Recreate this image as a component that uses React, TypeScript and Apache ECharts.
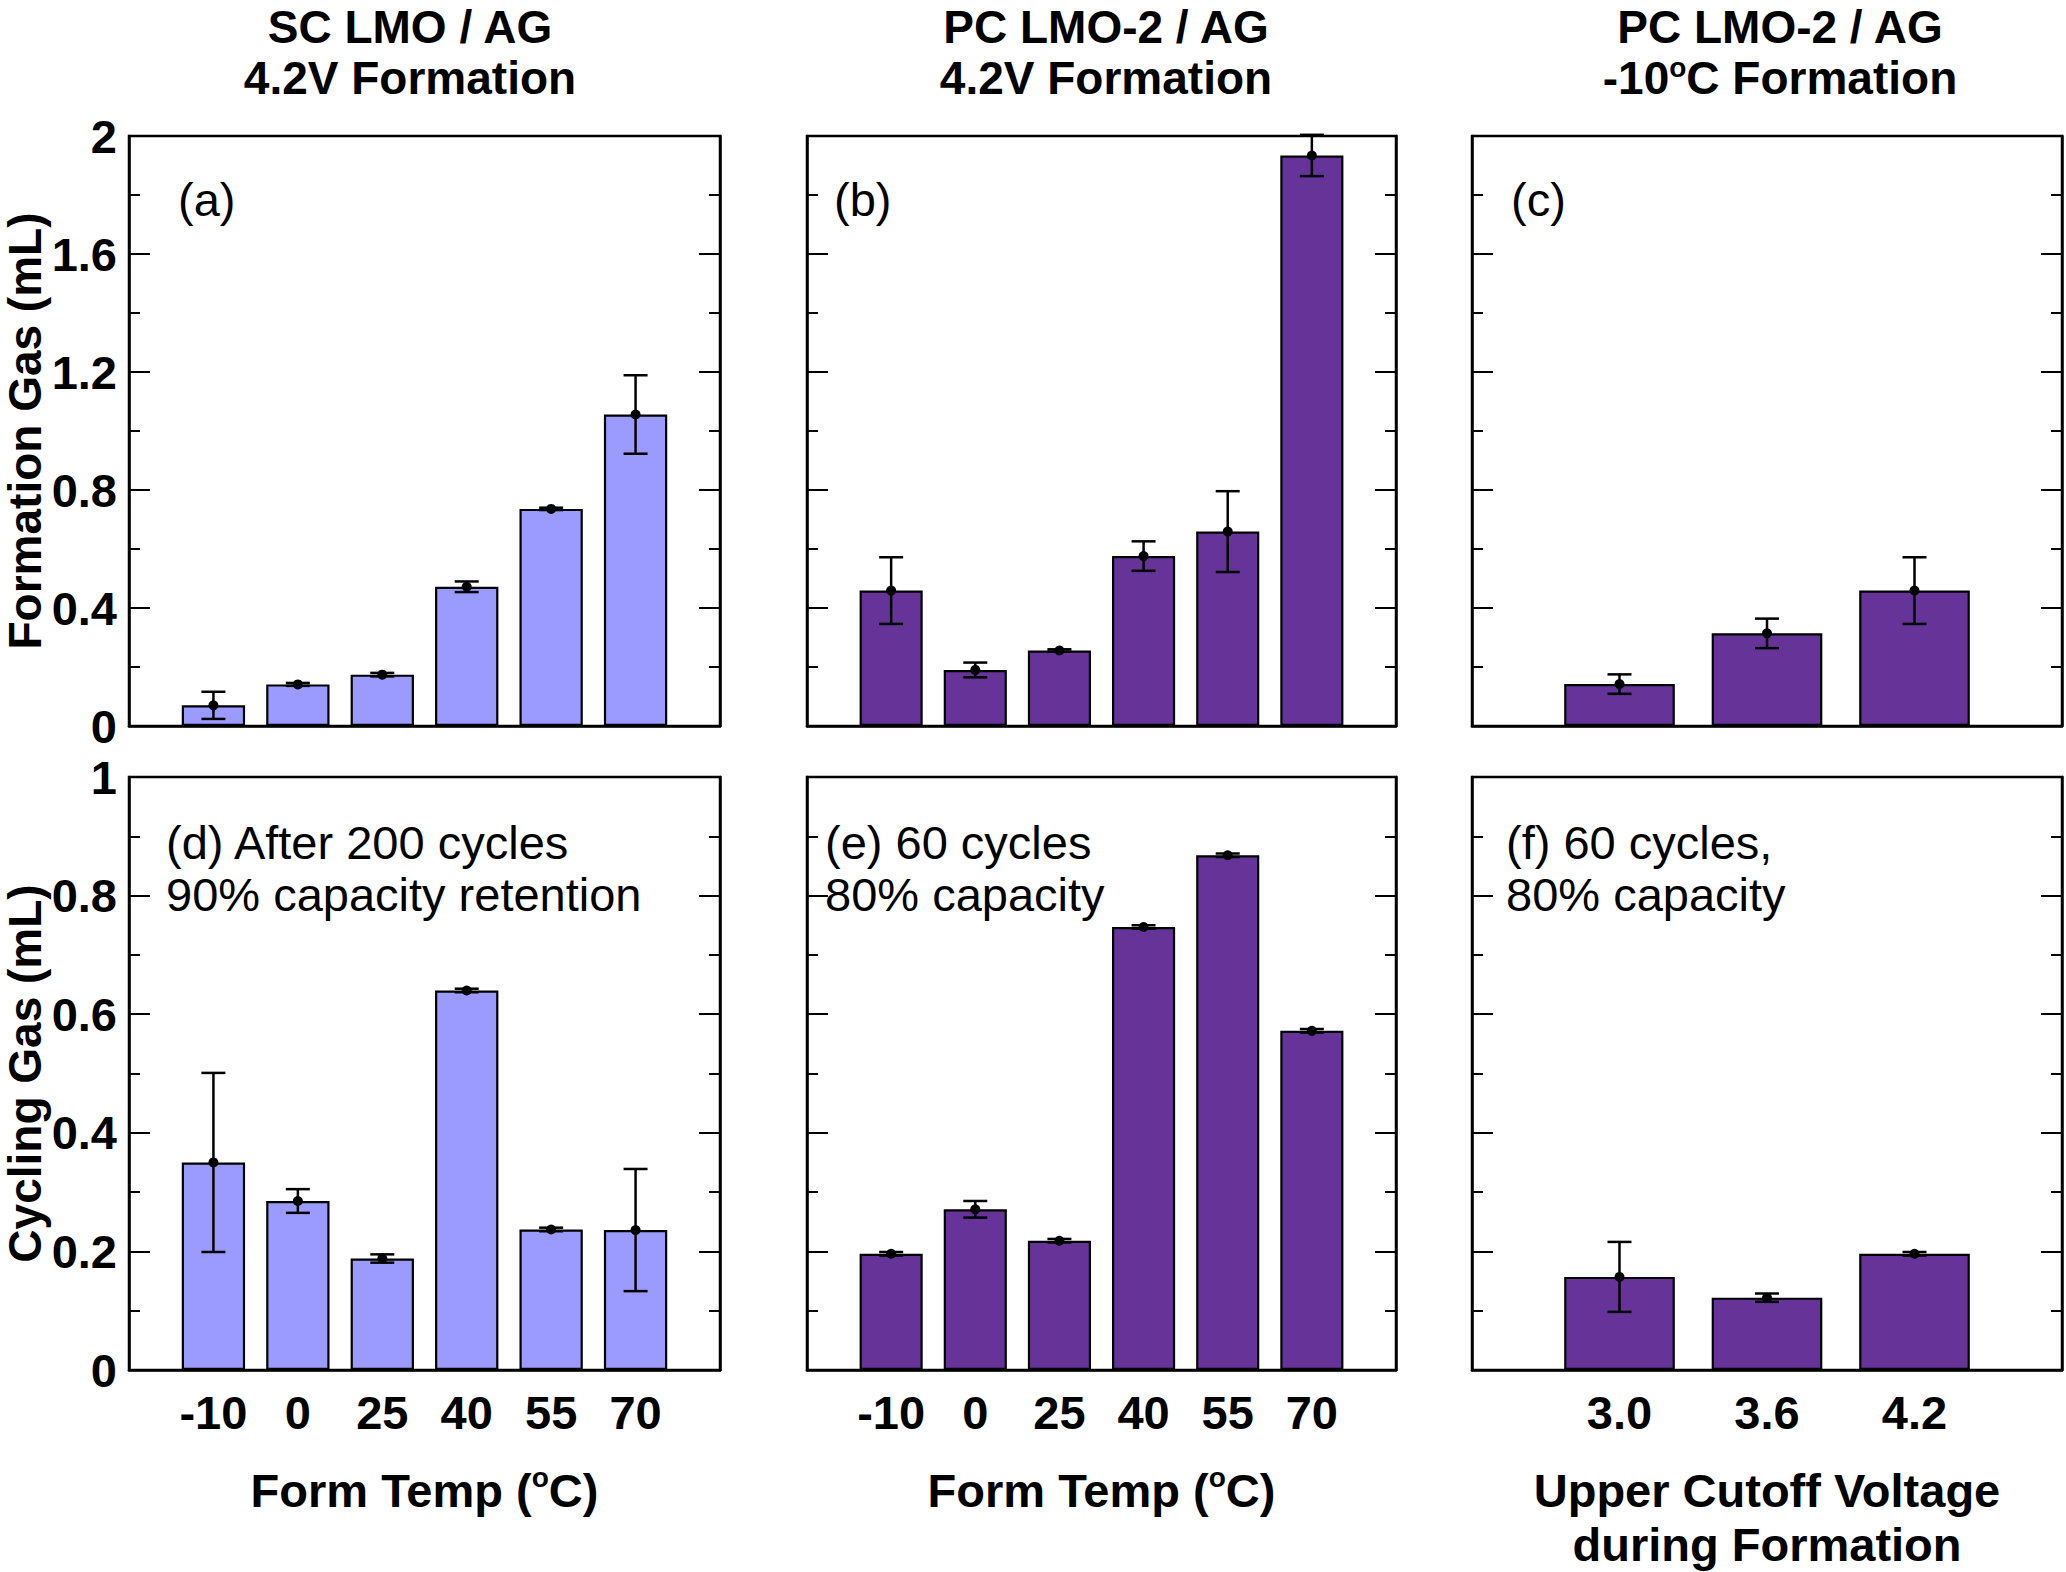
import React, { useEffect, useRef } from 'react';
import * as echarts from 'echarts';

// ---- categories ----
const tempCats = ['-10', '0', '25', '40', '55', '70'];
const voltCats = ['3.0', '3.6', '4.2'];

// ---- y ticks ----
const formTicks = { max: 2, interval: 0.4 };
const cycTicks = { max: 1, interval: 0.2 };

// ---- formation gas (mL) ----
const formGasSC = [0.070, 0.141, 0.174, 0.472, 0.736, 1.056];
const formGasSCErr = [0.046, 0.005, 0.006, 0.018, 0.004, 0.133];
const formGasPC = [0.459, 0.190, 0.256, 0.576, 0.659, 1.934];
const formGasPCErr = [0.113, 0.025, 0.004, 0.050, 0.137, 0.070];
const formGasVolt = [0.142, 0.314, 0.459];
const formGasVoltErr = [0.033, 0.050, 0.113];

// ---- cycling gas (mL) ----
const cycGasSC = [0.350, 0.285, 0.188, 0.640, 0.237, 0.236];
const cycGasSCErr = [0.151, 0.020, 0.007, 0.003, 0.003, 0.103];
const cycGasPC = [0.196, 0.271, 0.218, 0.747, 0.868, 0.572];
const cycGasPCErr = [0.003, 0.014, 0.003, 0.003, 0.003, 0.003];
const cycGasVolt = [0.157, 0.122, 0.196];
const cycGasVoltErr = [0.059, 0.007, 0.003];

// ---- panel titles ----
const titleLines1 = ['SC LMO / AG', 'PC LMO-2 / AG', 'PC LMO-2 / AG'];
const titleLines2 = ['4.2V Formation', '4.2V Formation', '{b|-10}{s|o}{b|C Formation}'];

const FONT = "'Liberation Sans', Arial, Helvetica, sans-serif";
const LIGHT = '#9B9BFF';
const PURPLE = '#663399';

type Panel = {
  cats: string[];
  vals: number[];
  errs: number[];
  color: string;
  left: number;
  top: number;
  width: number;
  height: number;
  max: number;
  interval: number;
  showY: boolean;
  yName: string;
  showX: boolean;
  xName: string;
};

const COLS = [
  { left: 129, width: 591 },
  { left: 807, width: 589 },
  { left: 1472, width: 590 },
];
const ROWS = [
  { top: 136, height: 590 },
  { top: 777, height: 593 },
];

const panels: Panel[] = [
  { cats: tempCats, vals: formGasSC, errs: formGasSCErr, color: LIGHT, ...COLS[0], ...ROWS[0], ...formTicks, showY: true, yName: 'Formation Gas (mL)', showX: false, xName: '' },
  { cats: tempCats, vals: formGasPC, errs: formGasPCErr, color: PURPLE, ...COLS[1], ...ROWS[0], ...formTicks, showY: false, yName: '', showX: false, xName: '' },
  { cats: voltCats, vals: formGasVolt, errs: formGasVoltErr, color: PURPLE, ...COLS[2], ...ROWS[0], ...formTicks, showY: false, yName: '', showX: false, xName: '' },
  { cats: tempCats, vals: cycGasSC, errs: cycGasSCErr, color: LIGHT, ...COLS[0], ...ROWS[1], ...cycTicks, showY: true, yName: 'Cycling Gas (mL)', showX: true, xName: '{n|Form Temp (}{s|o}{n|C)}' },
  { cats: tempCats, vals: cycGasPC, errs: cycGasPCErr, color: PURPLE, ...COLS[1], ...ROWS[1], ...cycTicks, showY: false, yName: '', showX: true, xName: '{n|Form Temp (}{s|o}{n|C)}' },
  { cats: voltCats, vals: cycGasVolt, errs: cycGasVoltErr, color: PURPLE, ...COLS[2], ...ROWS[1], ...cycTicks, showY: false, yName: '', showX: true, xName: '{n|Upper Cutoff Voltage}\n{n|during Formation}' },
];

const richSup = {
  n: { fontSize: 47, fontWeight: 'bold', fontFamily: FONT, color: '#000', lineHeight: 54 },
  s: { fontSize: 28, fontWeight: 'bold', fontFamily: FONT, color: '#000', verticalAlign: 'top', lineHeight: 40 },
};

function renderErr(params: any, api: any) {
  const xi = api.value(0);
  const p = api.coord([xi, api.value(1)]);
  const lo = api.coord([xi, api.value(2)]);
  const hi = api.coord([xi, api.value(3)]);
  const hw = 12;
  const ls = { stroke: '#000', lineWidth: 2.5 };
  return {
    type: 'group',
    children: [
      { type: 'line', shape: { x1: p[0], y1: hi[1], x2: p[0], y2: lo[1] }, style: ls },
      { type: 'line', shape: { x1: p[0] - hw, y1: hi[1], x2: p[0] + hw, y2: hi[1] }, style: ls },
      { type: 'line', shape: { x1: p[0] - hw, y1: lo[1], x2: p[0] + hw, y2: lo[1] }, style: ls },
      { type: 'circle', shape: { cx: p[0], cy: p[1], r: 5 }, style: { fill: '#000' } },
    ],
  };
}

function buildOption() {
  const grid: any[] = [];
  const xAxis: any[] = [];
  const yAxis: any[] = [];
  const series: any[] = [];

  panels.forEach((p, i) => {
    grid.push({
      left: p.left, top: p.top, width: p.width, height: p.height,
      show: true, borderColor: '#000', borderWidth: 2.5, backgroundColor: 'transparent',
    });
    xAxis.push({
      type: 'category',
      gridIndex: i,
      data: ['', ...p.cats, ''],
      boundaryGap: false,
      axisLine: { show: true, lineStyle: { color: '#000', width: 2.5 } },
      axisTick: { show: false },
      splitLine: { show: false },
      axisLabel: {
        show: p.showX, interval: 0, color: '#000', fontFamily: FONT,
        fontWeight: 'bold', fontSize: 47, margin: 19,
      },
      name: p.xName,
      nameLocation: 'middle',
      nameGap: 93,
      nameTextStyle: {
        color: '#000', fontFamily: FONT, fontWeight: 'bold', fontSize: 47,
        lineHeight: 54, rich: richSup,
      },
    });
    const tickCommon = {
      axisLine: { show: true, lineStyle: { color: '#000', width: 2.5 } },
      axisTick: { show: true, inside: true, length: 21, lineStyle: { color: '#000', width: 2 } },
      minorTick: { show: true, splitNumber: 2, length: 11, lineStyle: { color: '#000', width: 2 } },
      splitLine: { show: false },
      minorSplitLine: { show: false },
    };
    yAxis.push({
      type: 'value', gridIndex: i, position: 'left', min: 0, max: p.max, interval: p.interval,
      ...tickCommon,
      axisLabel: {
        show: p.showY, color: '#000', fontFamily: FONT, fontWeight: 'bold', fontSize: 47, margin: 12,
      },
      name: p.yName,
      nameLocation: 'middle',
      nameGap: 73,
      nameTextStyle: { color: '#000', fontFamily: FONT, fontWeight: 'bold', fontSize: 46, lineHeight: 40 },
    });
    yAxis.push({
      type: 'value', gridIndex: i, position: 'right', min: 0, max: p.max, interval: p.interval,
      ...tickCommon,
      axisLabel: { show: false },
    });
    series.push({
      type: 'bar',
      xAxisIndex: i,
      yAxisIndex: 2 * i,
      data: ['-', ...p.vals, '-'],
      barWidth: '75%',
      itemStyle: { color: p.color, borderColor: '#000', borderWidth: 2.2 },
      silent: true,
      z: 2,
    });
    series.push({
      type: 'custom',
      xAxisIndex: i,
      yAxisIndex: 2 * i,
      data: p.vals.map((v, k) => [k + 1, v, v - p.errs[k], v + p.errs[k]]),
      encode: { x: 0, y: 1 },
      renderItem: renderErr,
      silent: true,
      z: 3,
    });
  });

  const titleText = (text: string, x: number, y: number) => ({
    type: 'text',
    x,
    y,
    style: {
      text,
      fill: '#000',
      fontFamily: FONT,
      fontWeight: 'bold',
      fontSize: 46,
      lineHeight: 48,
      align: 'center',
      verticalAlign: 'middle',
      textAlign: 'center',
      textVerticalAlign: 'middle',
      rich: {
        b: { fontSize: 46, fontWeight: 'bold', fontFamily: FONT, fill: '#000', color: '#000', lineHeight: 50 },
        s: { fontSize: 28, fontWeight: 'bold', fontFamily: FONT, fill: '#000', color: '#000', verticalAlign: 'top', lineHeight: 38 },
      },
    },
  });

  const note = (text: string, x: number, y: number) => ({
    type: 'text',
    x,
    y,
    style: {
      text,
      fill: '#000',
      fontFamily: FONT,
      fontWeight: 'normal',
      fontSize: 47,
      lineHeight: 52,
      align: 'left',
      verticalAlign: 'middle',
      textAlign: 'left',
      textVerticalAlign: 'middle',
    },
    z: 10,
  });

  const titleX = [410, 1106, 1780];
  const graphic: any[] = [];
  titleX.forEach((x, i) => {
    graphic.push(titleText(titleLines1[i], x, 27));
    graphic.push(titleText(titleLines2[i], x, 78));
  });
  graphic.push(
    note('(a)', 178, 199),
    note('(b)', 834, 199),
    note('(c)', 1511, 199),
    note('(d) After 200 cycles\n90% capacity retention', 166, 868),
    note('(e) 60 cycles\n80% capacity', 825, 868),
    note('(f) 60 cycles,\n80% capacity', 1506, 868),
  );

  return {
    animation: false,
    backgroundColor: '#fff',
    grid,
    xAxis,
    yAxis,
    series,
    graphic,
  };
}

export default function App() {
  const ref = useRef<HTMLDivElement>(null);
  useEffect(() => {
    if (!ref.current) return;
    const chart = echarts.init(ref.current, undefined, { renderer: 'svg' });
    chart.setOption(buildOption() as any);
    return () => chart.dispose();
  }, []);
  return (
    <div
      ref={ref}
      style={{ position: 'fixed', left: 0, top: 0, width: 2066, height: 1572, background: '#fff' }}
    />
  );
}
